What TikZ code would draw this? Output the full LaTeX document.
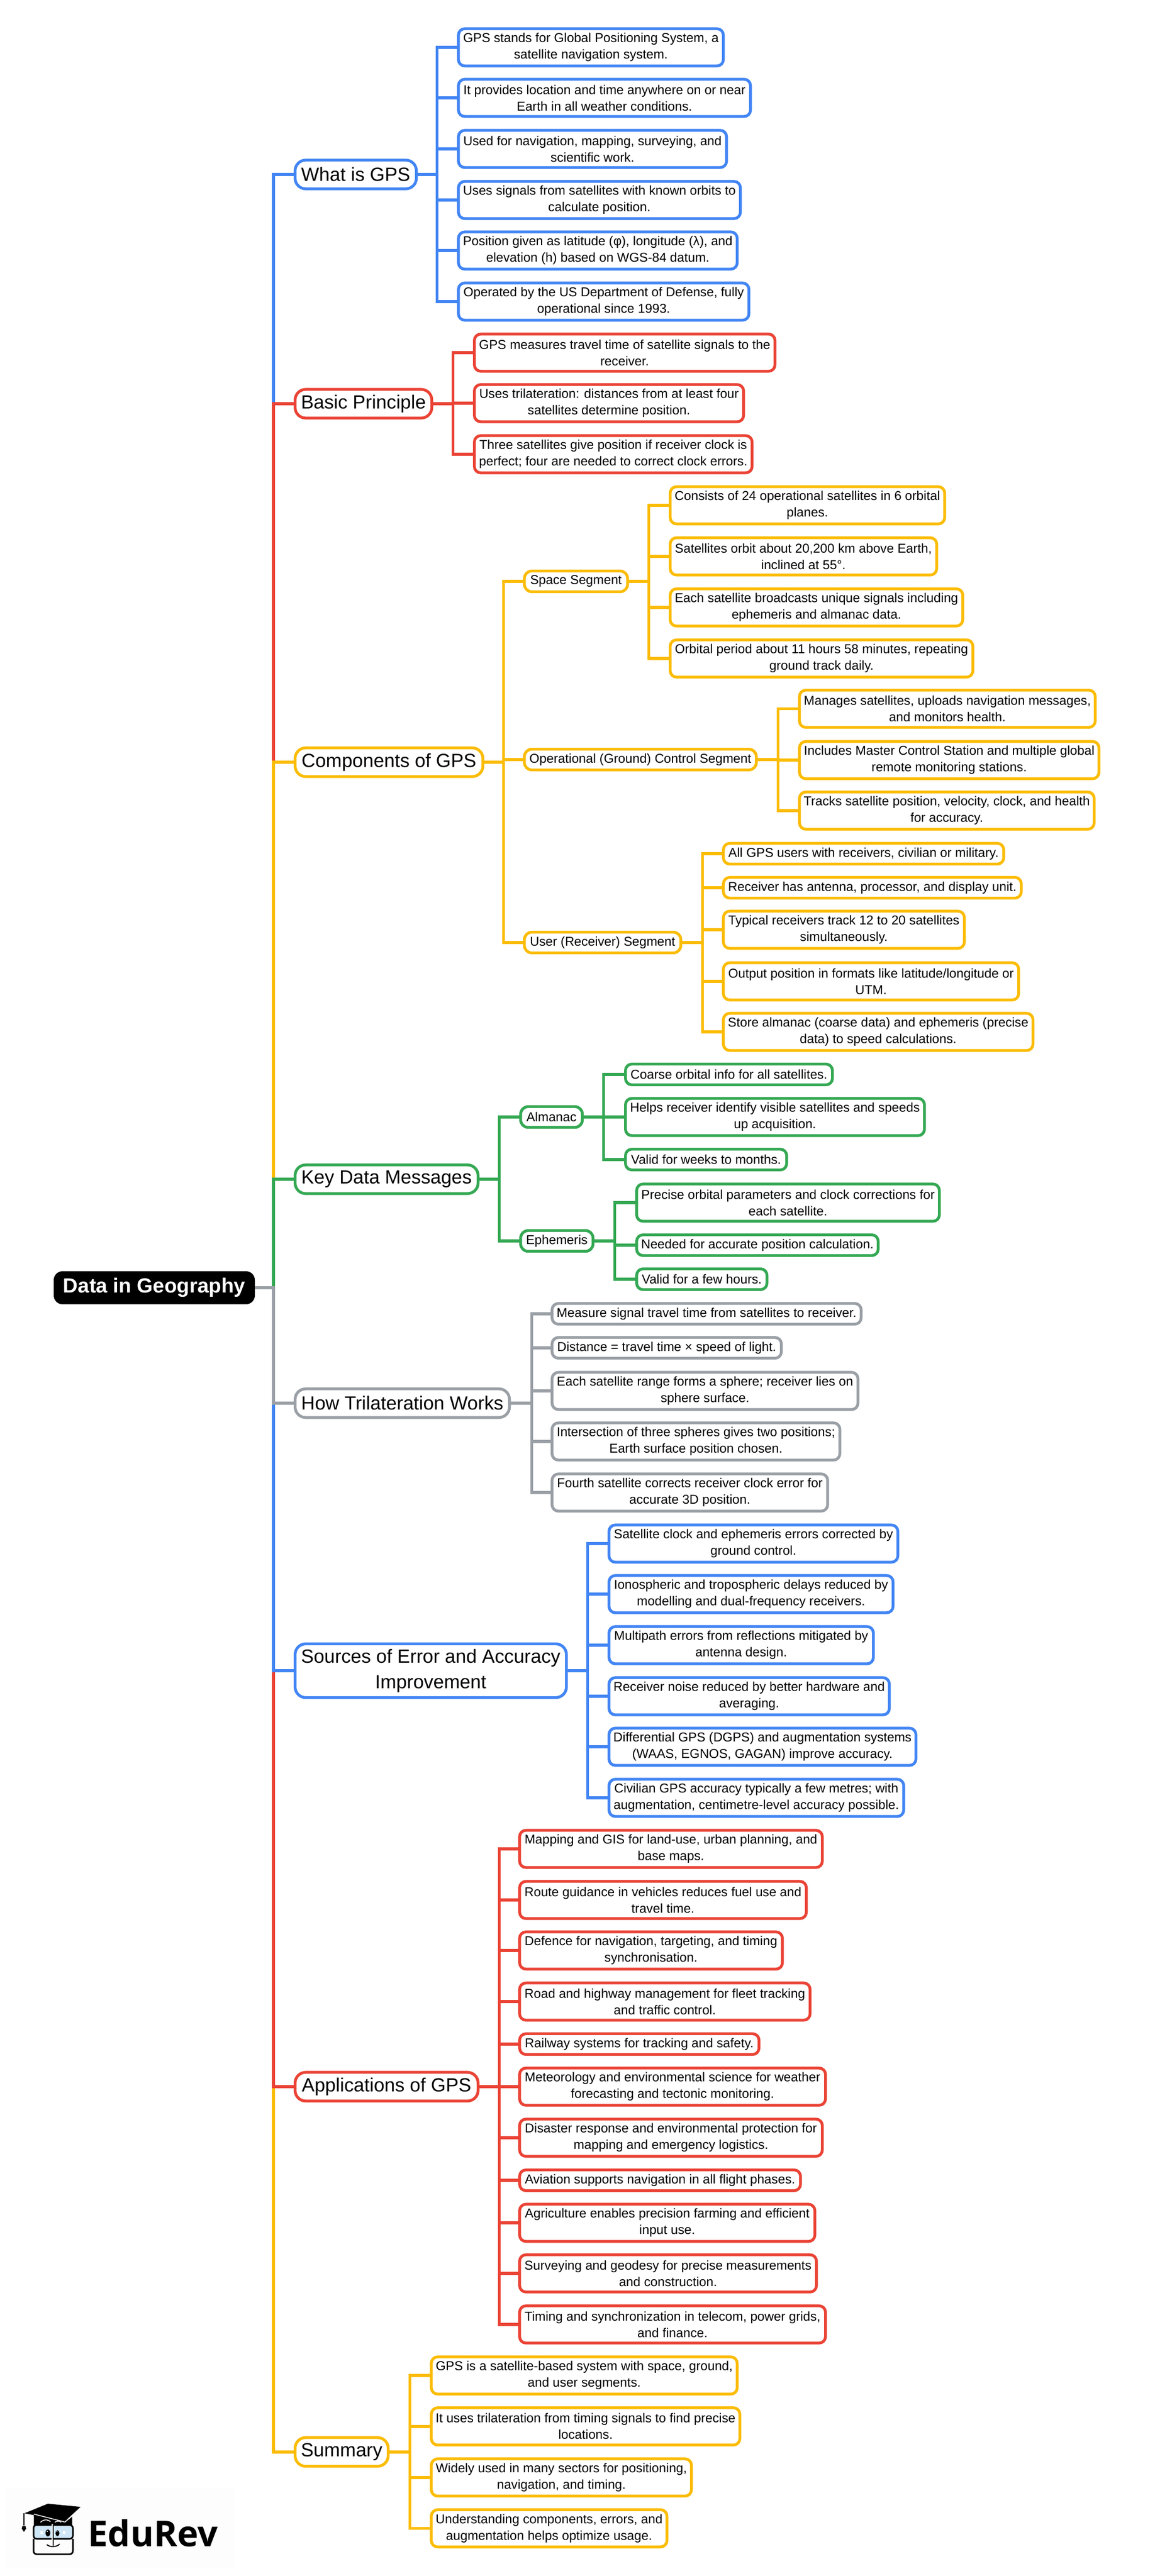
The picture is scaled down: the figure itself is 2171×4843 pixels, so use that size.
\documentclass[tikz,border=0pt]{standalone}
\usepackage{fontspec}
\setmainfont{Liberation Sans}
\newfontfamily\logofont{Open Sans}
\definecolor{cblue}{HTML}{4285F4}
\definecolor{cred}{HTML}{EA4335}
\definecolor{cyel}{HTML}{FBBC05}
\definecolor{cgreen}{HTML}{34A853}
\definecolor{cgray}{HTML}{9AA0A6}
\definecolor{paper}{HTML}{FDFDFD}
\definecolor{glass}{HTML}{CFE6F7}
\tikzset{
  x=1pt,y=-1pt,
  box/.style={draw,fill=white,rounded corners=12pt,line width=5.3pt,inner sep=0pt,anchor=west,align=center,text=black},
  leaf/.style={box,font=\fontsize{24.2}{31}\selectfont,minimum height=#1},
  leaf/.default=70,
  mid/.style={box,rounded corners=14pt,font=\fontsize{24.2}{31}\selectfont,minimum height=39},
  top/.style={box,rounded corners=20pt,font=\fontsize{35.8}{47.7}\selectfont,minimum height=54},
  rootbox/.style={fill=black,draw=black,text=white,rounded corners=16pt,line width=1pt,inner sep=0pt,anchor=west,align=center,minimum height=61,font=\fontsize{38.5}{46}\selectfont\bfseries},
  conn/.style={line width=5.5pt,line cap=butt,line join=miter},
  logoline/.style={draw=black,line width=3pt},
}
\newcommand{\KK}[5]{\node[leaf,minimum width={#3-#2-5}] (#1) at (#2,#4) {#5};}
\newcommand{\KS}[5]{\node[leaf=39,minimum width={#3-#2-5}] (#1) at (#2,#4) {#5};}
\newcommand{\LK}[3]{\draw[conn] (#1.east) -- ++(#3,0) |- (#2.west);}
\begin{document}
\begin{tikzpicture}
\useasboundingbox (0,0) rectangle (2171,4843);
\fill[white] (0,0) rectangle (2171,4843);
\fill[paper] (10,4678) rectangle (440,4827);

% ---------- root
\node[rootbox,minimum width=377] (root) at (101,2421) {Data in Geography};

% ---------- level one
\node[top,draw=cblue,minimum width=228] (what) at (552,328) {What is GPS};
\node[top,draw=cred,minimum width=257] (basic) at (552,759) {Basic Principle};
\node[top,draw=cyel,minimum width=353] (comp) at (552,1433) {Components of GPS};
\node[top,draw=cgreen,minimum width=344] (key) at (552,2217) {Key Data Messages};
\node[top,draw=cgray,minimum width=403] (how) at (552,2638) {How Trilateration Works};
\node[top,draw=cblue,minimum width=510,minimum height=101] (src) at (552,3141) {Sources of Error and Accuracy\\Improvement};
\node[top,draw=cred,minimum width=344] (app) at (552,3923) {Applications of GPS};
\node[top,draw=cyel,minimum width=175] (summ) at (552,4609.7) {Summary};

% ---------- What is GPS
\begin{scope}[cblue]
\KK{a1}{859}{1362}{89}{GPS stands for Global Positioning System, a\\satellite navigation system.}
\KK{a2}{859}{1413}{184}{It provides location and time anywhere on or near\\Earth in all weather conditions.}
\KK{a3}{859}{1368}{280}{Used for navigation, mapping, surveying, and\\scientific work.}
\KK{a4}{859}{1394}{376}{Uses signals from satellites with known orbits to\\calculate position.}
\KK{a5}{859}{1388}{471}{Position given as latitude (φ), longitude (λ), and\\elevation (h) based on WGS-84 datum.}
\KK{a6}{859}{1410}{567}{Operated by the US Department of Defense, fully\\operational since 1993.}
\end{scope}
% ---------- Basic Principle
\begin{scope}[cred]
\KK{b1}{889}{1459}{663}{GPS measures travel time of satellite signals to the\\receiver.}
\KK{b2}{889}{1400}{758}{Uses trilateration: distances from at least four\\satellites determine position.}
\KK{b3}{889}{1416}{854}{Three satellites give position if receiver clock is\\perfect; four are needed to correct clock errors.}
\end{scope}
% ---------- Components
\begin{scope}[cyel]
\node[mid,minimum width=194] (c1) at (983,1093) {Space Segment};
\node[mid,minimum width=436] (c2) at (983,1428) {Operational (Ground) Control Segment};
\node[mid,minimum width=294] (c3) at (983,1772) {User (Receiver) Segment};
\KK{c1a}{1257}{1778}{950}{Consists of 24 operational satellites in 6 orbital\\planes.}
\KK{c1b}{1257}{1763}{1046}{Satellites orbit about 20,200 km above Earth,\\inclined at 55°.}
\KK{c1c}{1257}{1812}{1142}{Each satellite broadcasts unique signals including\\ephemeris and almanac data.}
\KK{c1d}{1257}{1831}{1238}{Orbital period about 11 hours 58 minutes, repeating\\ground track daily.}
\KK{c2a}{1500}{2061}{1332.5}{Manages satellites, uploads navigation messages,\\and monitors health.}
\KK{c2b}{1500}{2068}{1429}{Includes Master Control Station and multiple global\\remote monitoring stations.}
\KK{c2c}{1500}{2059}{1524}{Tracks satellite position, velocity, clock, and health\\for accuracy.}
\KS{c3a}{1357}{1889}{1605}{All GPS users with receivers, civilian or military.}
\KS{c3b}{1357}{1922}{1669}{Receiver has antenna, processor, and display unit.}
\KK{c3c}{1357}{1815}{1748}{Typical receivers track 12 to 20 satellites\\simultaneously.}
\KK{c3d}{1357}{1917}{1845}{Output position in formats like latitude/longitude or\\UTM.}
\KK{c3e}{1357}{1944}{1940}{Store almanac (coarse data) and ephemeris (precise\\data) to speed calculations.}
\end{scope}
% ---------- Key data
\begin{scope}[cgreen]
\node[mid,minimum width=116] (k1) at (976,2100) {Almanac};
\node[mid,minimum width=136] (k2) at (976,2333) {Ephemeris};
\KS{k1a}{1173}{1567}{2020}{Coarse orbital info for all satellites.}
\KK{k1b}{1173}{1740}{2100}{Helps receiver identify visible satellites and speeds\\up acquisition.}
\KS{k1c}{1173}{1481}{2180}{Valid for weeks to months.}
\KK{k2a}{1194}{1768}{2261}{Precise orbital parameters and clock corrections for\\each satellite.}
\KS{k2b}{1194}{1653}{2341}{Needed for accurate position calculation.}
\KS{k2c}{1194}{1444}{2405}{Valid for a few hours.}
\end{scope}
% ---------- Trilateration
\begin{scope}[cgray]
\KS{h1}{1035}{1621}{2470}{Measure signal travel time from satellites to receiver.}
\KS{h2}{1035}{1471}{2534}{Distance = travel time × speed of light.}
\KK{h3}{1035}{1615}{2615}{Each satellite range forms a sphere; receiver lies on\\sphere surface.}
\KK{h4}{1035}{1581}{2710}{Intersection of three spheres gives two positions;\\Earth surface position chosen.}
\KK{h5}{1035}{1558}{2806}{Fourth satellite corrects receiver clock error for\\accurate 3D position.}
\end{scope}
% ---------- Sources
\begin{scope}[cblue]
\KK{s1}{1142}{1690}{2902}{Satellite clock and ephemeris errors corrected by\\ground control.}
\KK{s2}{1142}{1681}{2997}{Ionospheric and tropospheric delays reduced by\\modelling and dual-frequency receivers.}
\KK{s3}{1142}{1644}{3093}{Multipath errors from reflections mitigated by\\antenna design.}
\KK{s4}{1142}{1674}{3189}{Receiver noise reduced by better hardware and\\averaging.}
\KK{s5}{1142}{1724}{3284}{Differential GPS (DGPS) and augmentation systems\\(WAAS, EGNOS, GAGAN) improve accuracy.}
\KK{s6}{1142}{1701}{3380}{Civilian GPS accuracy typically a few metres; with\\augmentation, centimetre-level accuracy possible.}
\end{scope}
% ---------- Applications
\begin{scope}[cred]
\KK{p1}{974}{1548}{3476}{Mapping and GIS for land-use, urban planning, and\\base maps.}
\KK{p2}{974}{1518}{3572}{Route guidance in vehicles reduces fuel use and\\travel time.}
\KK{p3}{974}{1473}{3667}{Defence for navigation, targeting, and timing\\synchronisation.}
\KK{p4}{974}{1525}{3763}{Road and highway management for fleet tracking\\and traffic control.}
\KS{p5}{974}{1429}{3843}{Railway systems for tracking and safety.}
\KK{p6}{974}{1554}{3923}{Meteorology and environmental science for weather\\forecasting and tectonic monitoring.}
\KK{p7}{974}{1548}{4019}{Disaster response and environmental protection for\\mapping and emergency logistics.}
\KS{p8}{974}{1507}{4099}{Aviation supports navigation in all flight phases.}
\KK{p9}{974}{1534}{4179}{Agriculture enables precision farming and efficient\\input use.}
\KK{p10}{974}{1537}{4274}{Surveying and geodesy for precise measurements\\and construction.}
\KK{p11}{974}{1554}{4370}{Timing and synchronization in telecom, power grids,\\and finance.}
\end{scope}
% ---------- Summary
\begin{scope}[cyel]
\KK{u1}{808}{1388}{4466}{GPS is a satellite-based system with space, ground,\\and user segments.}
\KK{u2}{808}{1393}{4561.7}{It uses trilateration from timing signals to find precise\\locations.}
\KK{u3}{808}{1302}{4657.7}{Widely used in many sectors for positioning,\\navigation, and timing.}
\KK{u4}{808}{1256}{4753.3}{Understanding components, errors, and\\augmentation helps optimize usage.}
\end{scope}

% ---------- connectors, root to level one (order keeps the nearer colour on top)
\draw[conn,cblue] (root.east) -- ++(35,0) |- (what.west);
\draw[conn,cred] (root.east) -- ++(35,0) |- (basic.west);
\draw[conn,cyel] (root.east) -- ++(35,0) |- (comp.west);
\draw[conn,cgreen] (root.east) -- ++(35,0) |- (key.west);
\draw[conn,cyel] (root.east) -- ++(35,0) |- (summ.west);
\draw[conn,cred] (root.east) -- ++(35,0) |- (app.west);
\draw[conn,cblue] (root.east) -- ++(35,0) |- (src.west);
\draw[conn,cgray] (root.east) -- ++(35,0) |- (how.west);
% ---------- connectors, level one down
\begin{scope}[cblue]
\foreach \c in {a1,a2,a3,a4,a5,a6}{\LK{what}{\c}{36}}
\foreach \c in {s1,s2,s3,s4,s5,s6}{\LK{src}{\c}{37}}
\end{scope}
\begin{scope}[cred]
\foreach \c in {b1,b2,b3}{\LK{basic}{\c}{37}}
\foreach \c in {p1,p2,p3,p4,p5,p6,p7,p8,p9,p10,p11}{\LK{app}{\c}{37}}
\end{scope}
\begin{scope}[cyel]
\foreach \c in {c1,c2,c3}{\LK{comp}{\c}{36}}
\foreach \c in {c1a,c1b,c1c,c1d}{\LK{c1}{\c}{37}}
\foreach \c in {c2a,c2b,c2c}{\LK{c2}{\c}{38}}
\foreach \c in {c3a,c3b,c3c,c3d,c3e}{\LK{c3}{\c}{38}}
\foreach \c in {u1,u2,u3,u4}{\LK{summ}{\c}{38}}
\end{scope}
\begin{scope}[cgreen]
\foreach \c in {k1,k2}{\LK{key}{\c}{37}}
\foreach \c in {k1a,k1b,k1c}{\LK{k1}{\c}{37}}
\foreach \c in {k2a,k2b,k2c}{\LK{k2}{\c}{38}}
\end{scope}
\begin{scope}[cgray]
\foreach \c in {h1,h2,h3,h4,h5}{\LK{how}{\c}{39}}
\end{scope}

% ---------- logo: figure with mortarboard
\draw[logoline,rounded corners=6pt] (63,4773) -- (63,4802) -- (137,4802) -- (137,4773);
\fill[black] (63.5,4728) -- (63.5,4750) -- (135.5,4750) -- (135.5,4730) -- (122,4740) -- cycle;
\fill[black] (90,4707) -- (151.5,4713) -- (122,4740) -- (46,4725) -- cycle;
\draw[white,line width=1.5pt] (63.5,4726.5) -- (122,4741.5) -- (136,4730);
\draw[white,line width=1.5pt] (76,4742) .. controls (84,4735) and (91,4737) .. (95,4741);
\draw[white,line width=1.5pt] (103,4742) .. controls (107,4739) and (112,4739) .. (115,4742);
\draw[black,line width=1.5pt] (45,4725) -- (45,4748);
\fill[black] (42,4749) -- (48,4749) -- (49,4754) -- (45,4760) -- (41,4754) -- cycle;
\draw[logoline,fill=glass,rounded corners=6pt] (63,4747) rectangle (137,4773);
\draw[white,line width=3pt] (98,4745) -- (98,4775);
\draw[black,line width=2pt] (100,4746) -- (100,4786);
\fill[black] (90,4762) ellipse [x radius=4.5,y radius=6.5];
\fill[black] (108,4762.5) ellipse [x radius=3.7,y radius=5.5];
\fill[white] (89,4759) circle (1.3);
\fill[white] (107,4759) circle (1.1);
\fill[white] (76,4759) rectangle (81,4764);
\fill[white] (118,4759) rectangle (123,4764);
\draw[black,line width=2pt] (88,4784) .. controls (94,4789) and (106,4789) .. (112,4783);
\node[anchor=west,inner sep=0pt,font=\fontsize{67}{70}\selectfont\logofont\bfseries,text=black] (logotext) at (165,4762) {EduRev};
\end{tikzpicture}
\end{document}
